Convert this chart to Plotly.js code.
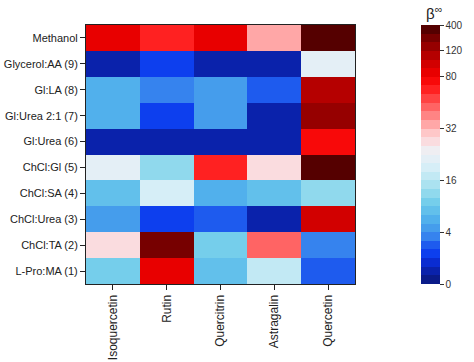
<!DOCTYPE html>
<html>
<head>
<meta charset="utf-8">
<script src="https://cdn.plot.ly/plotly-3.0.1.min.js"></script>
<style>html,body{margin:0;padding:0;background:#fff;}#chart{width:474px;height:362px;}</style>
</head>
<body>
<div id="chart"></div>
<script>
// Solvents (bottom to top)
const solvents = ["L-Pro:MA (1)", "ChCl:TA (2)", "ChCl:Urea (3)", "ChCl:SA (4)", "ChCl:Gl (5)",
  "Gl:Urea (6)", "Gl:Urea 2:1 (7)", "Gl:LA (8)", "Glycerol:AA (9)", "Methanol"];
const compounds = ["Isoquercetin", "Rutin", "Quercitrin", "Astragalin", "Quercetin"];

// beta-infinity values per solvent (columns follow compounds)
const betaLProMA   = [11.8, 90, 8.2, 17.6, 2.9];
const betaChClTA   = [28, 232, 11.8, 52, 3.6];
const betaChClUrea = [4, 2.2, 2.9, 1.0, 102];
const betaChClSA   = [8.2, 20, 6.4, 8.8, 13];
const betaChClGl   = [23, 13, 64, 28, 370];
const betaGlUrea   = [1.0, 1.0, 1.0, 1.0, 77];
const betaGlUrea21 = [6.4, 2.2, 4.6, 1.0, 204];
const betaGlLA     = [6.4, 3.8, 4.6, 2.9, 110];
const betaGlyAA    = [1.0, 2.2, 1.0, 1.2, 23];
const betaMethanol = [80, 64, 84, 33, 370];

const tickValues = [0, 4, 16, 32, 80, 120, 400];
const tickLabels = ["0", "4", "16", "32", "80", "120", "400"];
const tickPos = [0, 0.2, 0.4, 0.6, 0.8, 0.9, 1.0];

function toPos(v) {
  for (let i = 0; i < tickValues.length - 1; i++) {
    if (v <= tickValues[i + 1]) {
      return tickPos[i] + (v - tickValues[i]) / (tickValues[i + 1] - tickValues[i]) * (tickPos[i + 1] - tickPos[i]);
    }
  }
  return 1;
}

const rows = [betaLProMA, betaChClTA, betaChClUrea, betaChClSA, betaChClGl,
  betaGlUrea, betaGlUrea21, betaGlLA, betaGlyAA, betaMethanol];
const z = rows.map(r => r.map(toPos));

// continuous anchors -> 30 discrete bands
const anchors = [
  [0.0, [10, 24, 120]], [0.04, [10, 32, 160]], [0.075, [10, 40, 200]], [0.11, [10, 58, 238]],
  [0.145, [26, 85, 238]], [0.18, [53, 128, 238]], [0.22, [70, 160, 236]], [0.26, [85, 181, 236]],
  [0.31, [112, 204, 234]], [0.36, [152, 220, 238]], [0.40, [184, 230, 242]], [0.46, [220, 240, 248]],
  [0.52, [240, 238, 242]], [0.56, [253, 214, 216]], [0.597, [255, 190, 190]], [0.63, [255, 152, 152]],
  [0.665, [255, 117, 117]], [0.70, [255, 85, 85]], [0.734, [255, 48, 48]], [0.768, [255, 16, 16]],
  [0.803, [240, 0, 0]], [0.837, [221, 0, 0]], [0.872, [192, 0, 0]], [0.906, [160, 0, 0]],
  [0.94, [128, 0, 0]], [0.974, [96, 0, 0]], [1.0, [64, 0, 0]]
];
function colAt(p) {
  for (let i = 0; i < anchors.length - 1; i++) {
    const a = anchors[i], b = anchors[i + 1];
    if (p <= b[0]) {
      const t = (p - a[0]) / (b[0] - a[0]);
      const c = a[1].map((v, k) => Math.round(v + t * (b[1][k] - v)));
      return "rgb(" + c.join(",") + ")";
    }
  }
  return "rgb(64,0,0)";
}
const nb = 30;
const colorscale = [];
for (let i = 0; i < nb; i++) {
  const c = colAt((i + 0.5) / nb);
  colorscale.push([i / nb, c]);
  colorscale.push([(i + 1) / nb, c]);
}

const fontFam = "Liberation Sans, Arial, sans-serif";

const trace = {
  type: "heatmap",
  x: compounds,
  y: solvents,
  z: z,
  zmin: 0, zmax: 1,
  colorscale: colorscale,
  xgap: 0, ygap: 0,
  hoverinfo: "skip",
  colorbar: {
    thickness: 19, len: 1, lenmode: "fraction", y: 0.5, yanchor: "middle",
    x: 1.24, xanchor: "left", xpad: 0, ypad: 0,
    outlinewidth: 0,
    tickvals: tickPos, ticktext: tickLabels,
    ticks: "outside", ticklen: 4, tickwidth: 1, tickcolor: "#333",
    tickfont: {family: fontFam, size: 10, color: "#333"}
  }
};

const layout = {
  width: 474, height: 362,
  margin: {l: 86, r: 118, t: 25, b: 78},
  paper_bgcolor: "#fff", plot_bgcolor: "#fff",
  font: {family: fontFam, size: 11, color: "#222"},
  xaxis: {
    type: "category", tickangle: -90, ticks: "outside", ticklen: 5, tickcolor: "#222",
    showline: true, mirror: true, linecolor: "#222", linewidth: 1, showgrid: false, zeroline: false,
    tickfont: {size: 12, color: "#222"}
  },
  yaxis: {
    type: "category", ticks: "outside", ticklen: 5, tickcolor: "#222",
    showline: true, mirror: true, linecolor: "#222", linewidth: 1, showgrid: false, zeroline: false,
    tickfont: {size: 11, color: "#222"}
  },
  annotations: [{
    text: "β<sup>∞</sup>", xref: "paper", yref: "paper", x: 1.255, y: 1.0,
    xanchor: "left", yanchor: "bottom", yshift: 1, showarrow: false,
    font: {family: fontFam, size: 15, color: "#222"}
  }]
};

Plotly.newPlot("chart", [trace], layout, {displayModeBar: false, staticPlot: true});
</script>
</body>
</html>
